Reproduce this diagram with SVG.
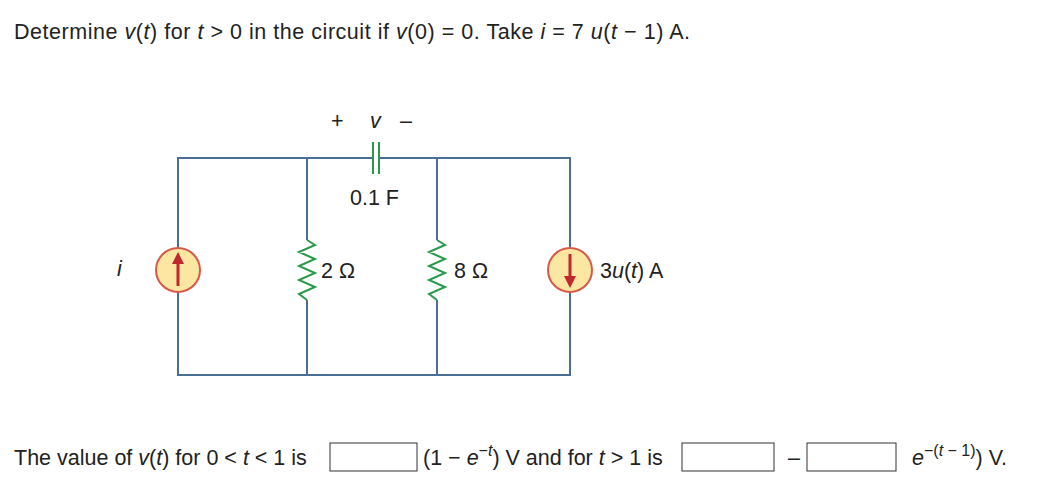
<svg xmlns="http://www.w3.org/2000/svg" width="1045" height="489" viewBox="0 0 1045 489">
<style>
text{font-family:"Liberation Sans",Arial,sans-serif;fill:#222;font-size:21.5px}
.w{stroke:#4a6e96;stroke-width:2;fill:none}
.g{stroke:#2a9a4a;stroke-width:2;fill:none}
.src{fill:#fbe6a2;stroke:#d65a4a;stroke-width:2}
.ar{stroke:#c0282e;stroke-width:3}
.box{fill:#fff;stroke:#333;stroke-width:1}
</style>
<defs><marker id="ah" viewBox="0 0 10 10" refX="5" refY="5" markerWidth="4" markerHeight="4" orient="auto"><path d="M0,0L10,5L0,10z" fill="#c0282e"/></marker></defs>
<rect width="1045" height="489" fill="#fff"/>
<text x="14" y="39" font-size="22.5" textLength="676" lengthAdjust="spacing">Determine <tspan font-style="italic">v</tspan>(<tspan font-style="italic">t</tspan>) for <tspan font-style="italic">t</tspan> &gt; 0 in the circuit if <tspan font-style="italic">v</tspan>(0) = 0. Take <tspan font-style="italic">i</tspan> = 7 <tspan font-style="italic">u</tspan>(<tspan font-style="italic">t</tspan> − 1) A.</text>
<g id="wires">
<path class="w" d="M178,248V158H373M379,158H570V248M178,292V375H570V292M307,158V240M307,300V375M437,158V240M437,300V375"/>
</g>
<g id="cap"><path class="g" d="M373,142V174M379,142V174"/>
<text x="331" y="128" font-family="Liberation Serif" font-size="24">+</text><text x="370" y="128" font-family="Liberation Serif" font-style="italic" font-size="24">v</text><text x="400" y="128">–</text>
<text x="350" y="205" font-size="22">0.1 F</text></g>
<g id="r2"><path class="g" d="M307,240L315,245L299,252L315,259L299,266L315,273L299,280L315,287L299,294L307,300"/><text x="321" y="278" font-size="23">2 Ω</text></g>
<g id="r8"><path class="g" d="M437,240L445,245L429,252L445,259L429,266L445,273L429,280L445,287L429,294L437,300"/><text x="454" y="278" font-size="23">8 Ω</text></g>
<g id="si"><circle class="src" cx="178" cy="270" r="22"/><line class="ar" x1="178" y1="286" x2="178" y2="258" marker-end="url(#ah)"/><text x="117" y="276" font-style="italic" font-size="18">i</text></g>
<g id="s3"><circle class="src" cx="570" cy="270" r="22"/><line class="ar" x1="570" y1="254" x2="570" y2="282" marker-end="url(#ah)"/><text x="600" y="278" font-size="23">3<tspan font-style="italic">u</tspan>(<tspan font-style="italic">t</tspan>) A</text></g>
<text x="14" y="465">The value of <tspan font-style="italic">v</tspan>(<tspan font-style="italic">t</tspan>) for 0 &lt; <tspan font-style="italic">t</tspan> &lt; 1 is</text>
<rect class="box" x="330" y="443" width="87" height="28"/>
<text x="423" y="465">(1 − <tspan font-style="italic">e</tspan><tspan dy="-9" font-size="16">−<tspan font-style="italic">t</tspan></tspan><tspan dy="9">) V and for </tspan><tspan font-style="italic">t</tspan> &gt; 1 is</text>
<rect class="box" x="682" y="443" width="92" height="28"/>
<text x="788" y="465">–</text>
<rect class="box" x="807" y="443" width="89" height="28"/>
<text x="912" y="465"><tspan font-style="italic">e</tspan><tspan dy="-9" font-size="16">−(<tspan font-style="italic">t</tspan> − 1)</tspan><tspan dy="9">) V.</tspan></text>
</svg>
